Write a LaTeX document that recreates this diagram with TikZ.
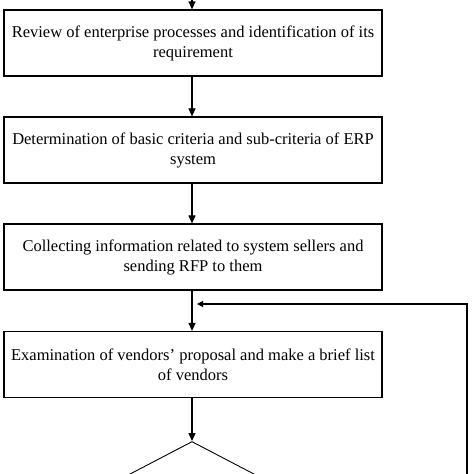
\documentclass[tikz,border=0pt]{standalone}
\usepackage{fontspec}
\setmainfont{Liberation Serif}
\usetikzlibrary{arrows.meta,shapes.geometric}
\begin{document}
\begin{tikzpicture}[x=1pt,y=-1pt,
  stepbox/.style={draw,line width=1.2pt,minimum width=378pt,minimum height=66pt,
    align=center,inner sep=0pt,font=\fontsize{16.5}{20}\selectfont},
  conn/.style={line width=1.1pt,-{Triangle[width=7pt,length=8pt]}},
  fb/.style={line width=1.1pt,-{Triangle[width=6pt,length=6pt]}}]
\useasboundingbox (0,0) rectangle (474,474);
\clip (0,0) rectangle (474,474);
\fill[white] (0,0) rectangle (474,474);
\coordinate (top) at (192,-5);
\node[stepbox] (b1) at (193,43) {Review of enterprise processes and identification of its\\requirement};
\node[stepbox] (b2) at (193,150) {Determination of basic criteria and sub-criteria of ERP\\system};
\node[stepbox] (b3) at (193,257) {Collecting information related to system sellers and\\sending RFP to them};
\node[stepbox] (b4) at (193,364.5) {Examination of vendors’ proposal and make a brief list\\of vendors};
\node[draw,line width=0.9pt,shape=diamond,minimum width=172pt,minimum height=90pt,inner sep=0pt] (d) at (192,486.5) {};
\coordinate (fbot) at (467,480);
\coordinate (fcorner) at (467,304);
\coordinate (fend) at (197,304);
\draw[conn] (top) -- (b1.north -| top);
\draw[conn] (b1.south -| top) -- (b2.north -| top);
\draw[conn] (b2.south -| top) -- (b3.north -| top);
\draw[conn] (b3.south -| top) -- (b4.north -| top);
\draw[conn] (b4.south -| top) -- (d.north);
\draw[fb] (fbot) -- (fcorner) -- (fend);
\end{tikzpicture}
\end{document}
